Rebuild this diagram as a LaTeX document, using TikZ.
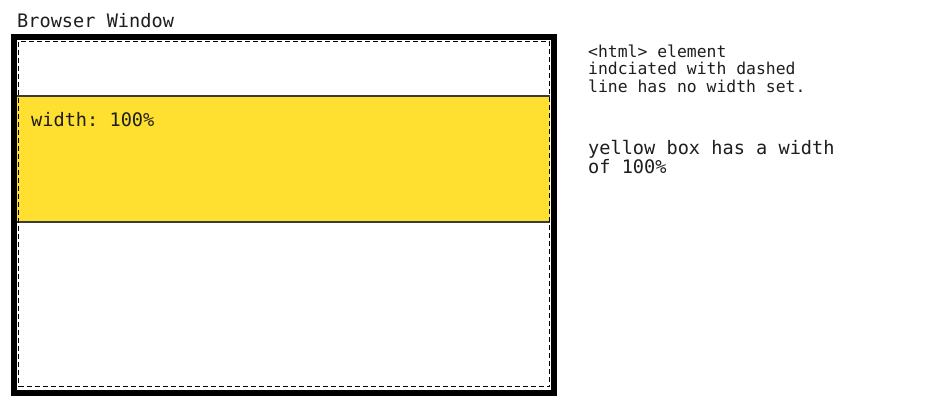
\documentclass[tikz,border=0pt]{standalone}
\usepackage{fontspec}
\setmonofont{DejaVu Sans Mono}
\definecolor{boxyellow}{HTML}{FFDF2F}
\definecolor{edgegray}{HTML}{3A3A3A}
\definecolor{inkgray}{HTML}{1E1E1E}
\tikzset{
  windowframe/.style={draw=black, line width=6pt, minimum width=540pt, minimum height=356pt, inner sep=0pt, outer sep=0pt, anchor=north west},
  htmlframe/.style={draw=black, line width=1pt, dash pattern=on 5pt off 3pt, minimum width=531pt, minimum height=345.5pt, inner sep=0pt, outer sep=0pt, anchor=north west},
  yellowfill/.style={fill=boxyellow, minimum width=533pt, minimum height=126pt, inner sep=0pt, outer sep=0pt, anchor=north west},
  edgeline/.style={draw=edgegray, line width=1.2pt},
  bigtext/.style={font=\ttfamily\fontsize{18.6}{19.5}\selectfont, text=inkgray, inner sep=0pt, anchor=base west, align=left},
  smalltext/.style={font=\ttfamily\fontsize{16.4}{17.6}\selectfont, text=inkgray, inner sep=0pt, anchor=base west, align=left}
}
\begin{document}
\begin{tikzpicture}[x=1pt,y=-1pt]
\useasboundingbox[fill=white] (0,0) rectangle (938,408);
\node[yellowfill] (yellow) at (17,96) {};
\draw[edgeline] (yellow.north west) -- (yellow.north east);
\draw[edgeline] (yellow.south west) -- (yellow.south east);
\node[htmlframe] (html) at (18.5,41) {};
\node[windowframe] (window) at (14,37) {};
\node[bigtext] (title) at (17,27.3) {Browser Window};
\node[bigtext] (widthlabel) at (31,126) {width: 100\%};
\node[smalltext] (note1) at (588,92.2) {<html> element\\indciated with dashed\\line has no width set.};
\node[bigtext] (note2) at (588,173.5) {yellow box has a width\\of 100\%};
\end{tikzpicture}
\end{document}
